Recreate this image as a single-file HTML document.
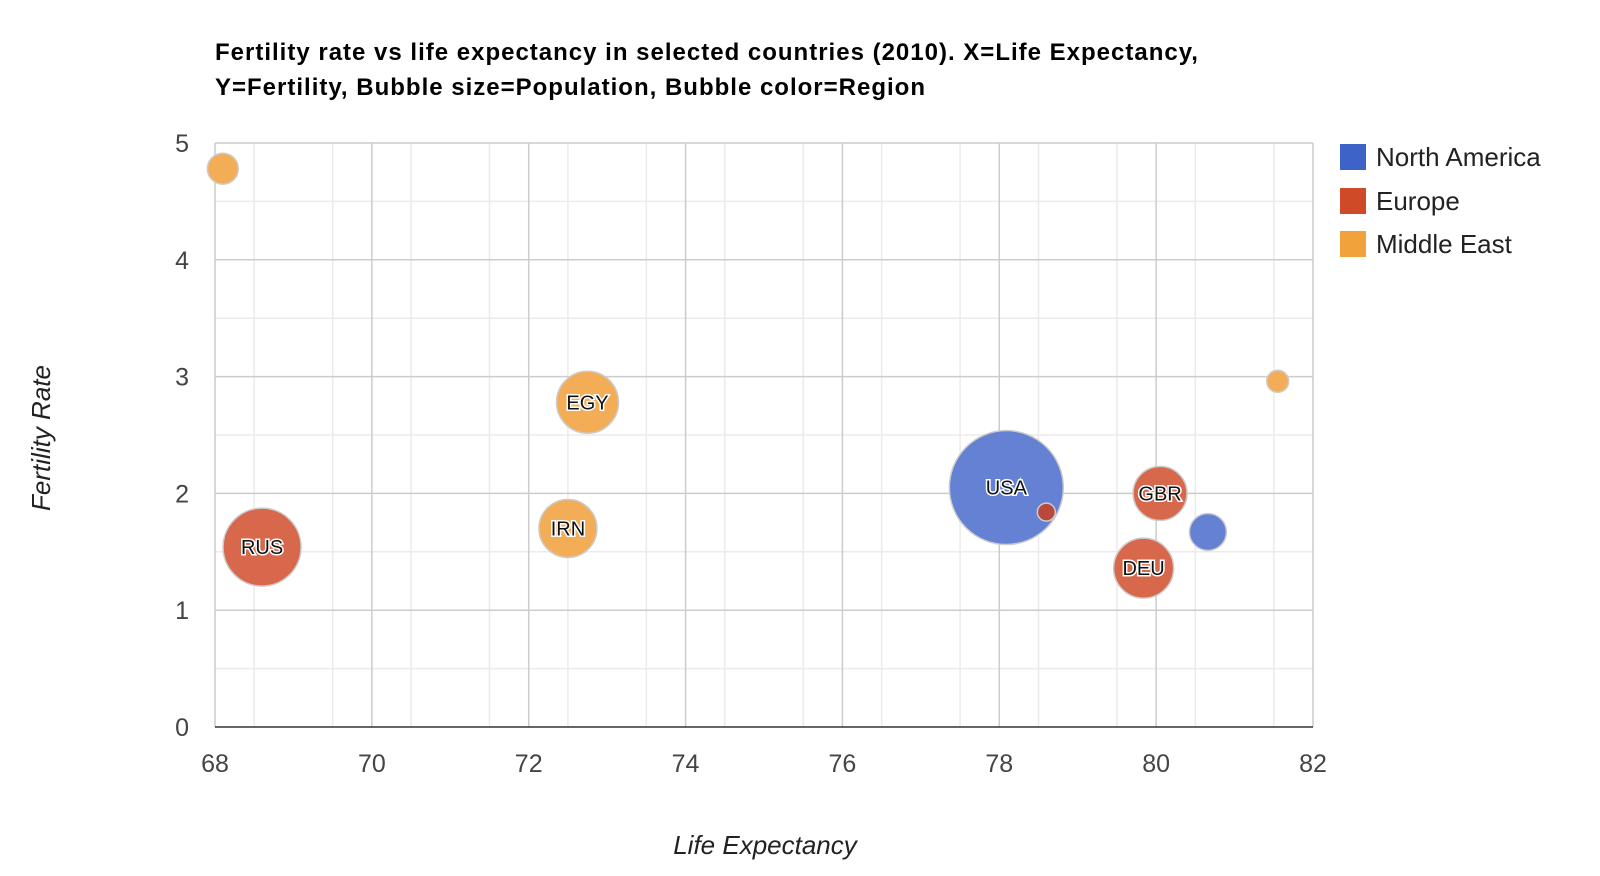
<!DOCTYPE html>
<html><head><meta charset="utf-8"><style>
html,body{margin:0;padding:0;background:#fff;}
svg text{font-family:"Liberation Sans",Arial,sans-serif;}
</style></head><body>
<svg width="1600" height="871" viewBox="0 0 1600 871" xmlns="http://www.w3.org/2000/svg">
<text x="215" y="60" font-size="24" font-weight="bold" letter-spacing="1" fill="#000">Fertility rate vs life expectancy in selected countries (2010). X=Life Expectancy,</text>
<text x="215" y="95" font-size="24" font-weight="bold" letter-spacing="1" fill="#000">Y=Fertility, Bubble size=Population, Bubble color=Region</text>
<g id="grid"></g>
<g id="bub"></g>
<text x="50" y="438" font-size="26" font-style="italic" fill="#222" text-anchor="middle" transform="rotate(-90 50 438)">Fertility Rate</text>
<text x="765" y="854" font-size="26" font-style="italic" fill="#222" text-anchor="middle">Life Expectancy</text>
<rect x="1340" y="144" width="26" height="26" fill="#3e63c8"/>
<text x="1376" y="166" font-size="26" fill="#222">North America</text>
<rect x="1340" y="188" width="26" height="26" fill="#cf4a27"/>
<text x="1376" y="210" font-size="26" fill="#222">Europe</text>
<rect x="1340" y="231" width="26" height="26" fill="#f2a23a"/>
<text x="1376" y="253" font-size="26" fill="#222">Middle East</text>
</svg>
<script>
var L=215,R=1313,T=143,B=727;
function X(v){return L+(v-68)/14*(R-L);}
function Y(v){return B-v/5*(B-T);}
var g=document.getElementById('grid'),s='';
for(var v=68.5;v<82;v+=1)s+='<line x1="'+X(v)+'" x2="'+X(v)+'" y1="'+T+'" y2="'+B+'" stroke="#ebebeb" stroke-width="1.5"/>';
for(var v=0.5;v<5;v+=1)s+='<line x1="'+L+'" x2="'+R+'" y1="'+Y(v)+'" y2="'+Y(v)+'" stroke="#ebebeb" stroke-width="1.5"/>';
for(var v=68;v<=82;v+=2){s+='<line x1="'+X(v)+'" x2="'+X(v)+'" y1="'+T+'" y2="'+B+'" stroke="#cccccc" stroke-width="1.5"/>';
s+='<text x="'+X(v)+'" y="772" font-size="25" fill="#444" text-anchor="middle">'+v+'</text>';}
for(var v=1;v<=5;v++){s+='<line x1="'+L+'" x2="'+R+'" y1="'+Y(v)+'" y2="'+Y(v)+'" stroke="#cccccc" stroke-width="1.5"/>';}
for(var v=0;v<=5;v++)s+='<text x="189" y="'+(Y(v)+9)+'" font-size="25" fill="#444" text-anchor="end">'+v+'</text>';
s+='<line x1="'+L+'" x2="'+R+'" y1="'+B+'" y2="'+B+'" stroke="#333" stroke-width="1.5"/>';
g.innerHTML=s;
var C={n:'#6481d4',e:'#d8684b',m:'#f4ad57'};
var d=[[78.09,2.05,57,'n','USA'],[68.6,1.54,39,'e','RUS'],[72.75,2.78,31,'m','EGY'],[72.5,1.7,29,'m','IRN'],[79.84,1.36,30,'e','DEU'],[80.05,2.0,27,'e','GBR'],[80.66,1.67,18.5,'n',''],[68.1,4.78,15.5,'m',''],[81.55,2.96,11,'m',''],[78.6,1.84,9,'e','']];
var b='';
d.forEach(function(p){var c=C[p[3]];if(p[4]===''&&p[3]==='e')c='#b84a3c';b+='<circle cx="'+X(p[0])+'" cy="'+Y(p[1])+'" r="'+p[2]+'" fill="'+c+'" stroke="#ccc" stroke-width="1.5"/>';});
d.forEach(function(p){if(p[4])b+='<text x="'+X(p[0])+'" y="'+(Y(p[1])+7)+'" font-size="20" text-anchor="middle" fill="#111" stroke="#fff" stroke-width="3" paint-order="stroke">'+p[4]+'</text>';});
document.getElementById('bub').innerHTML=b;
</script>
</body></html>
